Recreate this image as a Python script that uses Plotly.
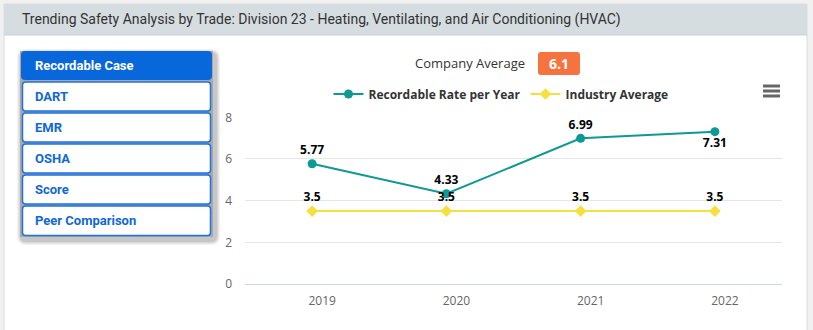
import plotly.graph_objects as go

# ---- data ----
years = ["2019", "2020", "2021", "2022"]
recordable_rate = [5.77, 4.33, 6.99, 7.31]
industry_average = [3.5, 3.5, 3.5, 3.5]
company_average = 6.1
y_ticks = [0, 2, 4, 6, 8]
menu_items = ["Recordable Case", "DART", "EMR", "OSHA", "Score", "Peer Comparison"]
title_text = "Trending Safety Analysis by Trade: Division 23 - Heating, Ventilating, and Air Conditioning (HVAC)"

W, H = 813, 330


def X(px):
    return px / W


def Y(py):
    return 1 - py / H


def rrect_path(x0, y0, x1, y1, r):
    pts = [
        f"M {X(x0 + r)},{Y(y0)}",
        f"L {X(x1 - r)},{Y(y0)}",
        f"Q {X(x1)},{Y(y0)} {X(x1)},{Y(y0 + r)}",
        f"L {X(x1)},{Y(y1 - r)}",
        f"Q {X(x1)},{Y(y1)} {X(x1 - r)},{Y(y1)}",
        f"L {X(x0 + r)},{Y(y1)}",
        f"Q {X(x0)},{Y(y1)} {X(x0)},{Y(y1 - r)}",
        f"L {X(x0)},{Y(y0 + r)}",
        f"Q {X(x0)},{Y(y0)} {X(x0 + r)},{Y(y0)}",
        "Z",
    ]
    return " ".join(pts)


TEAL = "#0e9994"
YELLOW = "#f6e040"
BLUE = "#0967dc"
FONT = "Open Sans"

fig = go.Figure()

fig.add_trace(go.Scatter(
    x=years, y=recordable_rate, name="Recordable Rate per Year",
    mode="lines+markers+text",
    line=dict(color=TEAL, width=2),
    marker=dict(color=TEAL, size=9, symbol="circle"),
    text=[f"{v:g}" for v in recordable_rate],
    textposition=["top center", "top center", "top center", "bottom center"],
    textfont=dict(family=FONT, size=12, color="#000000", weight="bold"),
    cliponaxis=False,
))
fig.add_trace(go.Scatter(
    x=years, y=industry_average, name="Industry Average",
    mode="lines+markers+text",
    line=dict(color=YELLOW, width=2),
    marker=dict(color=YELLOW, size=9, symbol="diamond"),
    text=[f"{v:g}" for v in industry_average],
    textposition="top center",
    textfont=dict(family=FONT, size=12, color="#000000", weight="bold"),
    cliponaxis=False,
))

shapes = []
# page card and header band
shapes.append(dict(type="rect", xref="paper", yref="paper", x0=X(4), x1=X(807), y0=Y(4), y1=Y(340),
                   fillcolor="#ffffff", line=dict(color="#dcdcdc", width=1), layer="below"))
shapes.append(dict(type="rect", xref="paper", yref="paper", x0=X(4), x1=X(807), y0=Y(4), y1=Y(35),
                   fillcolor="#d6dde1", line=dict(width=0), layer="below"))
shapes.append(dict(type="line", xref="paper", yref="paper", x0=X(4), x1=X(807), y0=Y(35), y1=Y(35),
                   line=dict(color="#c9d0d4", width=1), layer="below"))

# menu panel shadow
for i, a in enumerate([0.05, 0.05, 0.06, 0.07]):
    g = 5 - i
    shapes.append(dict(type="path", xref="paper", yref="paper",
                       path=rrect_path(20 - g + 2, 51 - g + 3, 213 + g + 2, 237 + g + 3, 4 + g),
                       fillcolor=f"rgba(0,0,0,{a})", line=dict(width=0), layer="below"))
# menu panel frame
shapes.append(dict(type="rect", xref="paper", yref="paper", x0=X(20), x1=X(213), y0=Y(51), y1=Y(237),
                   fillcolor="#a9a9a9", line=dict(width=0), layer="below"))

btn_top = [51.5, 82, 113, 144, 175, 206]
btn_bot = [79.5, 111, 142, 173, 204, 235.5]
for i, item in enumerate(menu_items):
    if i == 0:
        shapes.append(dict(type="path", xref="paper", yref="paper",
                           path=rrect_path(21.5, btn_top[i], 211.5, btn_bot[i], 3),
                           fillcolor=BLUE, line=dict(color=BLUE, width=1), layer="below"))
    else:
        shapes.append(dict(type="path", xref="paper", yref="paper",
                           path=rrect_path(22.5, btn_top[i], 210.5, btn_bot[i], 3),
                           fillcolor="#ffffff", line=dict(color="#1f72e0", width=1.5), layer="below"))

# company average badge
shapes.append(dict(type="path", xref="paper", yref="paper",
                   path=rrect_path(538, 52, 580, 75, 3),
                   fillcolor="#f5733f", line=dict(width=0), layer="above"))

# context menu icon
for yy in [86, 91, 96]:
    shapes.append(dict(type="line", xref="paper", yref="paper", x0=X(763), x1=X(780), y0=Y(yy), y1=Y(yy),
                       line=dict(color="#666666", width=3), layer="above"))

annotations = []
annotations.append(dict(text=title_text, xref="paper", yref="paper", x=X(20), y=Y(19.5),
                        xanchor="left", yanchor="middle", showarrow=False,
                        font=dict(family="Roboto", size=14, color="#333333")))
annotations.append(dict(text="Company Average", xref="paper", yref="paper", x=X(527), y=Y(63.5),
                        xanchor="right", yanchor="middle", showarrow=False,
                        font=dict(family=FONT, size=13, color="#333333")))
annotations.append(dict(text=f"{company_average:g}", xref="paper", yref="paper", x=X(559), y=Y(63.5),
                        xanchor="center", yanchor="middle", showarrow=False,
                        font=dict(family=FONT, size=14, color="#ffffff", weight="bold")))
for i, item in enumerate(menu_items):
    annotations.append(dict(text=item, xref="paper", yref="paper", x=X(33),
                            y=Y((btn_top[i] + btn_bot[i]) / 2),
                            xanchor="left", yanchor="middle", showarrow=False,
                            font=dict(family="Roboto", size=13,
                                      color="#ffffff" if i == 0 else "#0f68d8", weight="bold")))

fig.update_layout(
    width=W, height=H,
    margin=dict(l=0, r=0, t=0, b=0, autoexpand=False),
    paper_bgcolor="#f1f1f1",
    plot_bgcolor="rgba(0,0,0,0)",
    shapes=shapes,
    annotations=annotations,
    showlegend=True,
    legend=dict(orientation="h", x=X(501), y=Y(94), xanchor="center", yanchor="middle",
                font=dict(family=FONT, size=12, color="#333333", weight="bold"),
                bgcolor="rgba(0,0,0,0)", itemwidth=30, traceorder="normal"),
    xaxis=dict(domain=[X(245), X(782)], type="category", range=[-0.5, 3.5],
               showgrid=False, showline=True, linecolor="#ccd6eb", linewidth=1,
               ticks="", tickfont=dict(family=FONT, size=12, color="#666666"),
               ticklabelshift=10, ticklabelstandoff=6, zeroline=False, fixedrange=True),
    yaxis=dict(domain=[Y(284), Y(117.3)], range=[0, 8], tickvals=y_ticks,
               showgrid=True, gridcolor="#e6e6e6", gridwidth=1, zeroline=False, showline=False,
               ticks="", tickfont=dict(family=FONT, size=12, color="#666666"),
               ticklabelstandoff=12, fixedrange=True),
)

fig.write_html("out.html", post_script="document.body.style.margin = '0';")
